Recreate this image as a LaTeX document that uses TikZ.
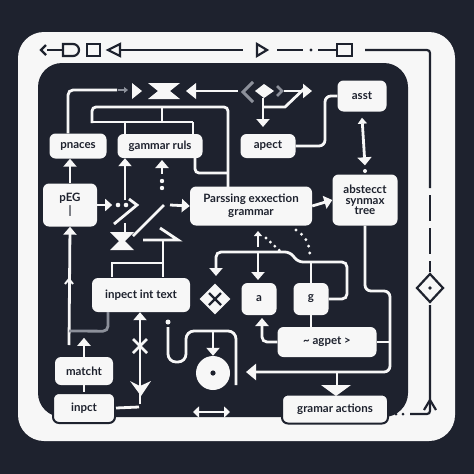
\documentclass[tikz,border=0pt]{standalone}
\usepackage{fontspec}
\setmainfont{Lato}
\usetikzlibrary{arrows.meta,shapes.geometric}

\definecolor{bgdark}{HTML}{1E222E}
\definecolor{fgwhite}{HTML}{F7F7F7}
\definecolor{greyline}{HTML}{8C909A}

\tikzset{
  box/.style={fill=fgwhite, text=bgdark, rounded corners=6pt, inner sep=0pt,
    align=center, font=\bfseries\fontsize{11.5}{12.5}\selectfont},
  edgebox/.style={box, draw=bgdark, line width=2pt},
  wire/.style={draw=fgwhite, line width=2.8pt},
  rimline/.style={draw=bgdark, line width=2.2pt},
  headarrow/.style={-{Triangle[length=8pt,width=13pt]}},
}

\begin{document}
\begin{tikzpicture}[x=1pt,y=-1pt]
  \useasboundingbox (0,0) rectangle (474,474);
  % Draw background and frame
  \fill[bgdark] (0,0) rectangle (474,474);
  \fill[fgwhite, rounded corners=26pt] (18,32) rectangle (455,441);
  \fill[bgdark, rounded corners=24pt] (38,63) rectangle (408,417);

  % Draw symbols on the top rim
  \draw[rimline] (46,45) -- (41,50) -- (46,55);
  \draw[rimline] (47,50) -- (63,50);
  \draw[rimline] (63,44) -- (73,44) to[out=0,in=90] (79,50) to[out=-90,in=0] (73,56) -- (63,56) -- cycle;
  \draw[rimline] (87,44) rectangle (100,56);
  \draw[rimline] (120,44) -- (108,50) -- (120,56) -- cycle;
  \draw[rimline] (120,50) -- (243,50);
  \draw[rimline] (257,44) -- (267,50) -- (257,56) -- cycle;
  \draw[rimline] (277,50) -- (303,50);
  \fill[bgdark] (311,50) circle (1.6);
  \draw[rimline] (318,50) -- (337,50);
  \draw[rimline] (337,44) rectangle (352,56);

  % Draw line on the right rim
  \draw[rimline, rounded corners=3pt] (365,50) -- (430,50) -- (430,188);
  \draw[rimline, dash pattern=on 26pt off 7pt] (430,195) -- (430,272);
  \draw[rimline] (430,274) -- (443,288) -- (430,302) -- (417,288) -- cycle;
  \fill[bgdark] (430,288) circle (1.8);
  \draw[rimline, rounded corners=3pt] (430,305) -- (430,414) -- (410,414);
  \draw[rimline] (424,410) -- (430,400) -- (436,410);
  \fill[bgdark] (396,414) circle (1.5) (403,414) circle (1.5);

  % Draw boxes
  \node[box, minimum width=57pt, minimum height=25pt] (pnaces) at (78,146) {pnaces};
  \node[box, minimum width=85pt, minimum height=24pt] (gram) at (160,146) {gammar ruls};
  \node[box, minimum width=55pt, minimum height=24pt] (apect) at (268,146) {apect};
  \node[box, minimum width=49pt, minimum height=31pt] (asst) at (362,96) {asst};
  \node[box, minimum width=54pt, minimum height=43pt] (peg) at (70,205) {pEG\\[0pt]|};
  \node[box, minimum width=122pt, minimum height=39pt] (pegram) at (251,206) {Parssing exxection\\grammar};
  \node[box, minimum width=65pt, minimum height=51pt] (ast) at (365,200) {abstecct\\[-2pt]synmax\\[-2pt]tree};
  \node[box, minimum width=98pt, minimum height=34pt] (inpect) at (141,295) {inpect int text};
  \node[diamond, fill=fgwhite, minimum size=31pt, inner sep=0pt] (xdia) at (215,299) {};
  \draw[bgdark, line width=2.4pt] ([shift={(-6,-6)}]xdia.center) -- ([shift={(6,6)}]xdia.center)
    ([shift={(-6,6)}]xdia.center) -- ([shift={(6,-6)}]xdia.center);
  \node[box, minimum width=35pt, minimum height=32pt] (a) at (259,299) {a};
  \node[box, minimum width=35pt, minimum height=32pt] (g) at (311,299) {g};
  \node[box, minimum width=99pt, minimum height=30pt] (agpet) at (327,342) {\textasciitilde{} agpet >};
  \node[box, minimum width=58pt, minimum height=28pt] (matcht) at (84,371) {matcht};
  \node[edgebox, minimum width=62pt, minimum height=30pt] (inpct) at (84,408) {inpct};
  \node[edgebox, minimum width=106pt, minimum height=29pt] (actions) at (335,409) {gramar actions};
  \node[circle, fill=fgwhite, minimum size=34pt, inner sep=0pt] (disc) at (213,373) {};
  \fill[bgdark] (disc.center) circle (2.6);

  % Draw top row of symbols
  \draw[wire, rounded corners=5pt] ([xshift=-10pt]pnaces.north) |- (117,90);
  \draw[greyline, line width=2pt, -{Triangle[length=4pt,width=6pt]}] (118,90) -- (128,90);
  \fill[fgwhite] (132,83) -- (142,91) -- (132,99) -- cycle;
  \fill[fgwhite] (148,83) -- (180,83) -- (170,91) -- (180,99) -- (148,99) -- (158,91) -- cycle;
  \fill[fgwhite] (196,83) -- (186,91) -- (196,99) -- cycle;
  \draw[wire] (196,91) -- (238,91);
  \draw[greyline, line width=3pt] (253,82) -- (243,92) -- (253,102);
  \fill[fgwhite] (255,91) -- (264,84) -- (274,91) -- (264,98) -- cycle;
  \draw[greyline, line width=2.5pt] (277,86) -- (282,91) -- (277,96);
  \draw[wire, -{Triangle[length=9pt,width=14pt]}] (284,91) -- (312,91);
  \draw[wire] (263,107) -- (285,107) -- (306,87);
  \draw[wire, headarrow] (263,98) -- (263,127);
  \draw[wire, rounded corners=6pt] (apect.east) -- (325,146) -- (325,96) -- (asst.west);

  % Draw bracket over gammar ruls
  \draw[wire, rounded corners=4pt] (92,123) -- (92,107) -- (228,107) -- (228,187);
  \draw[wire] (92,122) -- (193,122);
  \draw[wire] (162,107) -- (162,122);
  \draw[wire] (125,122) -- ([xshift=-35pt]gram.north);
  \draw[wire] (193,122) -- ([xshift=33pt]gram.north);
  \draw[wire, rounded corners=4pt] ([xshift=35pt]gram.south) |- (228,173);

  % Draw left column
  \draw[wire, headarrow] (peg.north) -- (peg.north |- pnaces.south);
  \coordinate (lowleft) at (69,345);
  \draw[wire, headarrow] (lowleft) -- (peg.south);
  \draw[wire, line width=2pt] (65,284) -- (69,279) -- (73,284);
  \draw[greyline, line width=2.8pt, rounded corners=5pt] ([xshift=-33pt]inpect.south) -- ++(0,19) -- (69,331);
  \draw[wire, headarrow] (matcht.north) -- ++(0,-19);
  \draw[wire] (matcht.south) -- (inpct.north);

  % Draw middle tangle between pEG and Parsing box
  \draw[wire, -{Triangle[length=7pt,width=12pt]}] (peg.east) -- ++(15,0);
  \fill[fgwhite] (118,205) circle (2.3) (126,205) circle (2.3);
  \draw[wire] (129,199) -- (137,205) -- (114,224);
  \draw[wire] (164,205) -- (133,236);
  \draw[wire] (125,223) -- (125,232);
  \draw[wire, headarrow] (125,200) -- ([xshift=-35pt]gram.south);
  \draw[wire, headarrow] (162,174) -- (162,160);
  \fill[fgwhite] (162,181) circle (2.2) (162,188) circle (2.2);
  \fill[fgwhite] (110,232) -- (134,232) -- (125,241) -- (134,250) -- (110,250) -- (119,241) -- cycle;
  \draw[wire] (143,240) -- (178,240) -- (160,228);
  \draw[wire] (163,240) -- (163,263);
  \draw[wire] (112,277) -- (112,263) -- (163,263) -- (163,277);
  \draw[wire, headarrow] (170,205) -- (pegram.west);
  \draw[wire, headarrow] (pegram.east) -- (ast.west);

  % Draw links around abstecct synmax tree
  \draw[wire, {Triangle[length=6pt,width=9pt]}-{Triangle[length=8pt,width=14pt]}]
    ([yshift=-6pt]asst.south) -- ([yshift=9pt]ast.north);
  \fill[fgwhite] (365,171) circle (2);
  \draw[wire, rounded corners=6pt, -{Triangle[length=10pt,width=16pt]}] (ast.south) |- (390,291) |- (246,372);
  \draw[wire] (337,372) -- (337,388);
  \fill[fgwhite] (321,385) -- (351,385) -- (336,396) -- cycle;

  % Draw links around a and g
  \draw[wire, rounded corners=5pt, headarrow] (agpet.west) -| (262,318);
  \draw[wire] (agpet.east) -- (390,342);
  \draw[wire] (g.south) -- (agpet.north -| g.south);
  \draw[wire, rounded corners=5pt, headarrow] (g.east) -| (347,262) -- (298,262) -- (290,252) -- (216,252) -- (216,276);
  \draw[wire, headarrow] (258,252) -- (258,280);
  \draw[wire] (311,262) -- (g.north);
  \draw[fgwhite, line width=3.2pt, line cap=round, dash pattern=on 0pt off 7pt]
    (296,230) to[out=-30,in=90] (310,258);
  \draw[wire, -{Triangle[length=5pt,width=8pt]}] (258,247) -- (258,231);
  \draw[fgwhite, line width=3.2pt, line cap=round, dash pattern=on 0pt off 6pt] (266,238) -- (280,251);

  % Draw U path and disc
  \fill[fgwhite] (168,322) circle (2.5);
  \draw[wire, rounded corners=8pt] (168,327) -- (168,362) -- (186,362) -- (186,331) -- (236,331) -- (236,385);
  \draw[wire, headarrow] (213,331) -- (disc.north);

  % Draw lower column under inpect int text
  \draw[wire, headarrow] (140,404) -- (inpect.south -| 140,0);
  \draw[wire] (133,339) -- (147,353) (133,353) -- (147,339);
  \fill[fgwhite] (130,381) -- (140,386) -- (151,381) -- (141,396) -- cycle;
  \draw[wire] (inpct.east) -- (139,407);
  \draw[wire, {Triangle[length=6pt,width=11pt]}-{Triangle[length=6pt,width=11pt]}] (193,412) -- (230,412);
\end{tikzpicture}
\end{document}
